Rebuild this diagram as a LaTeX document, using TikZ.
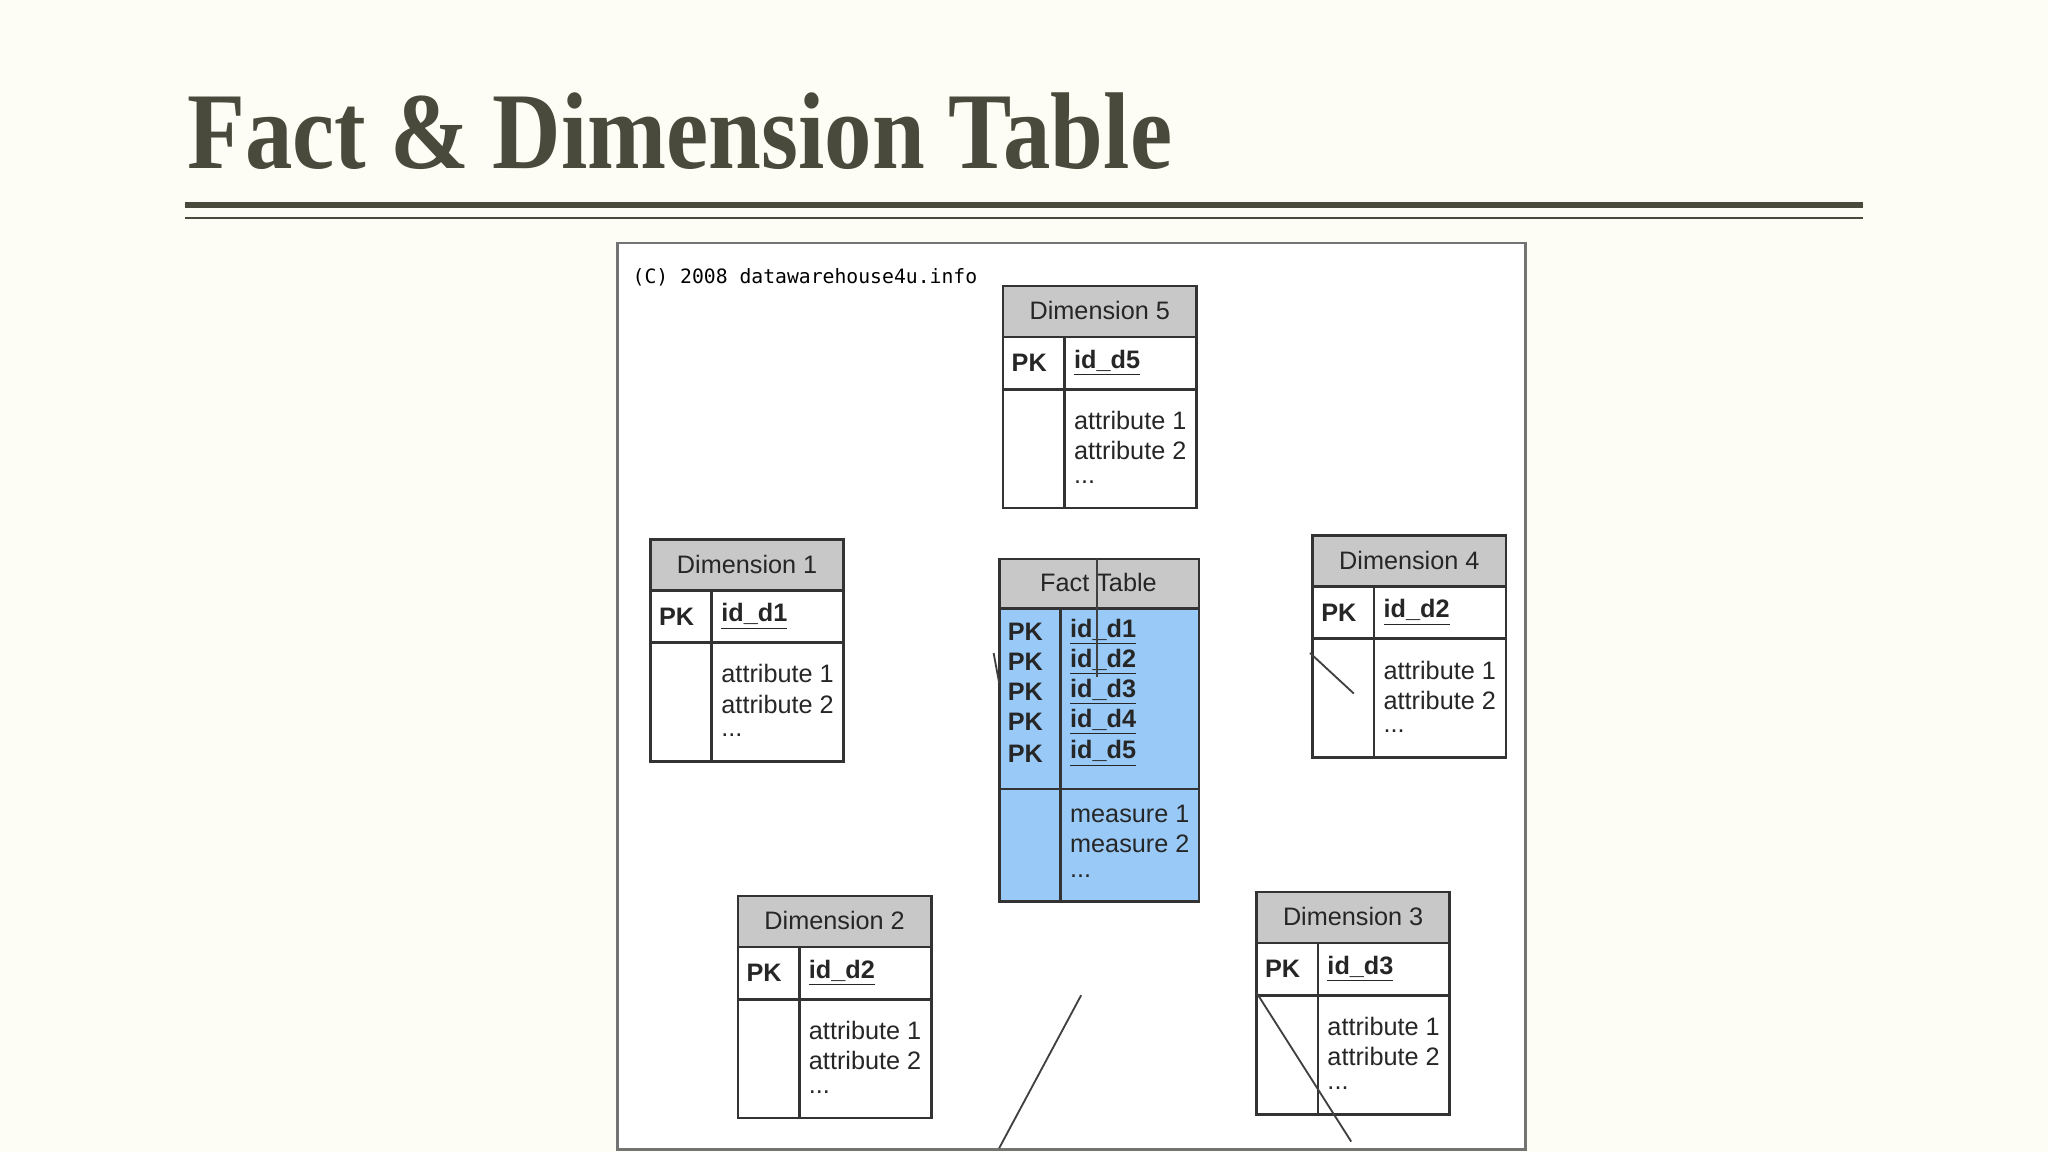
\documentclass[tikz,border=0pt]{standalone}
\usepackage{fontspec}
\setmainfont{Liberation Serif}
\setsansfont{Liberation Sans}
\setmonofont{DejaVu Sans Mono}
\usetikzlibrary{calc}
\definecolor{bg}{HTML}{FEFDF5}
\definecolor{titlec}{HTML}{4A4A3C}
\definecolor{hdr}{HTML}{C8C8C8}
\definecolor{fact}{HTML}{99C9F7}
\definecolor{tline}{HTML}{333333}
\tikzset{
  tbl/.style={draw=tline, line width=1.2pt},
  txt/.style={font=\sffamily\fontsize{11}{12}\selectfont, inner sep=0pt, text=black!85},
  lft/.style={txt, anchor=west},
  conn/.style={draw=black!75, line width=0.8pt}
}
\newcommand{\dimtab}[5]{% name, x, y, title, key
  \begin{scope}[shift={(#2,#3)}]
    \fill[hdr] (0,0) rectangle (148,39);
    \fill[white] (0,39) rectangle (148,170);
    \draw[tbl] (0,0) rectangle (148,170);
    \draw[tbl] (0,39) -- (148,39) (0,79) -- (148,79) (47,39) -- (47,170);
    \node[txt] at (74,19) {#4};
    \node[txt,font=\sffamily\bfseries\fontsize{11}{12}\selectfont] at (20,59) {PK};
    \node[lft,font=\sffamily\bfseries\fontsize{11}{12}\selectfont] at (54,59) {\underline{#5}};
    \node[lft] at (54,103) {attribute 1};
    \node[lft] at (54,126) {attribute 2};
    \node[lft] at (54,150) {...};
    \node[inner sep=0pt, minimum width=148, minimum height=170, anchor=north west] (#1) at (0,0) {};
  \end{scope}}
\begin{document}
\begin{tikzpicture}[x=0.02cm,y=-0.02cm]
\fill[bg] (0,0) rectangle (1568,882);
\useasboundingbox (0,0) rectangle (1568,882);
\node[anchor=south west, inner sep=0pt, text=titlec] (title) at (143,130)
  {\resizebox{15.08cm}{1.16cm}{\bfseries Fact \& Dimension Table}};
\draw[titlec, line width=2.9pt] (142,157) -- (1426,157);
\draw[titlec, line width=1pt] (142,167) -- (1426,167);
\fill[white] (473,186) rectangle (1168,880);
\draw[black!55, line width=1.2pt] (473,186) rectangle (1168,880);
\node[anchor=west, inner sep=0pt, font=\ttfamily\fontsize{8.6}{10}\selectfont] (copy) at (484,212) {(C) 2008 datawarehouse4u.info};
\dimtab{d5}{768}{219}{Dimension 5}{id\_d5}
\dimtab{d1}{498}{413}{Dimension 1}{id\_d1}
\dimtab{d4}{1005}{410}{Dimension 4}{id\_d2}
\dimtab{d2}{565}{686}{Dimension 2}{id\_d2}
\dimtab{d3}{962}{683}{Dimension 3}{id\_d3}
\begin{scope}[shift={(765,428)}]
  \fill[hdr] (0,0) rectangle (153,38);
  \fill[fact] (0,38) rectangle (153,262);
  \draw[tbl] (0,0) rectangle (153,262);
  \draw[tbl] (0,38) -- (153,38) (0,176) -- (153,176) (47,38) -- (47,262);
  \node[txt] at (76,18) {Fact Table};
  \foreach \i/\yy in {1/56,2/79,3/102,4/125,5/149}{
    \node[txt,font=\sffamily\bfseries\fontsize{11}{12}\selectfont] at (20,\yy) {PK};
    \node[lft,font=\sffamily\bfseries\fontsize{11}{12}\selectfont] at (54,\yy) {\underline{id\_d\i}};
  }
  \node[lft] at (54,195) {measure 1};
  \node[lft] at (54,218) {measure 2};
  \node[lft] at (54,243) {...};
  \node[inner sep=0pt, minimum width=153, minimum height=262, anchor=north west] (ft) at (0,0) {};
\end{scope}
\draw[conn] (d5.south -| 840,0) -- (ft.north -| 840,0);
\draw[conn] ($(d1.north east)+(2,87)$) -- ($(ft.north west)+(0,95)$);
\draw[conn] ($(d4.north west)+(-2,90)$) -- ($(ft.north east)+(2,103)$);
\draw[conn] ($(d2.north east)+(2,76)$) -- ($(ft.south west)+(0,-10)$);
\draw[conn] ($(d3.north west)+(0,77)$) -- ($(ft.south east)+(0,-15)$);
\end{tikzpicture}
\end{document}
